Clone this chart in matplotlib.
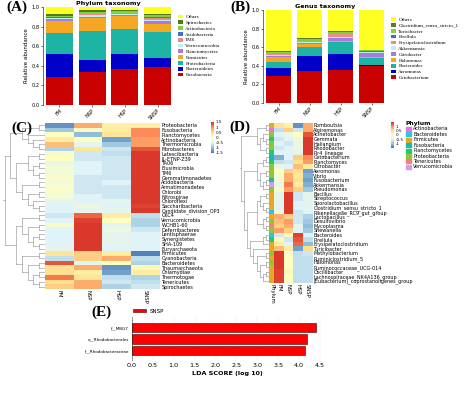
import numpy as np
import matplotlib.pyplot as plt
from matplotlib.colors import LinearSegmentedColormap, ListedColormap

W, H = 474, 399
fig = plt.figure(figsize=(W / 100, H / 100), dpi=100)


def box(l, t, r, b):
    return [l / W, 1 - b / H, (r - l) / W, (b - t) / H]


groups = ['FM', 'NSP', 'HSP', 'SNSP']

# ---- (A) phylum, bottom to top
phylum_names = ['Fusobacteria', 'Bacteroidetes', 'Proteobacteria', 'Firmicutes',
                'Planctomycetes', 'Verrucomicrobia', 'TM6', 'Acidobacteria',
                'Actinobacteria', 'Spirochaetes', 'Others']
phylum_colors = ['#C80000', '#0000C8', '#1EB4A5', '#F5A623', '#A77BDB', '#BFEFF2',
                 '#E88C8C', '#3D6FD1', '#80D040', '#4E7A1E', '#FFFF22']
phy_fm = [0.288, 0.237, 0.214, 0.119, 0.015, 0.010, 0.005, 0.008, 0.012, 0.024, 0.068]
phy_nsp = [0.339, 0.125, 0.289, 0.135, 0.012, 0.020, 0.004, 0.006, 0.015, 0.021, 0.034]
phy_hsp = [0.363, 0.162, 0.255, 0.125, 0.012, 0.015, 0.004, 0.006, 0.018, 0.010, 0.030]
phy_snsp = [0.383, 0.098, 0.265, 0.084, 0.025, 0.015, 0.015, 0.015, 0.015, 0.015, 0.070]

# ---- (B) genus, bottom to top
genus_names = ['Cetobacterium', 'Aeromonas', 'Bacteroides', 'Halomonas', 'Citrobacter',
               'Akkermansia', 'Erysipelatoclostridium', 'Pirellula', 'Turicibacter',
               'Clostridium_sensu_stricto_1', 'Others']
genus_colors = ['#C80000', '#0000C8', '#1EB4A5', '#F5A623', '#A77BDB', '#BFEFF2',
                '#E88C8C', '#3D6FD1', '#80D040', '#5E7A22', '#FFFF22']
gen_fm = [0.293, 0.082, 0.071, 0.047, 0.010, 0.010, 0.010, 0.005, 0.020, 0.006, 0.446]
gen_nsp = [0.339, 0.168, 0.100, 0.025, 0.015, 0.006, 0.010, 0.005, 0.018, 0.014, 0.300]
gen_hsp = [0.357, 0.168, 0.135, 0.008, 0.035, 0.010, 0.035, 0.004, 0.010, 0.010, 0.228]
gen_snsp = [0.393, 0.017, 0.075, 0.005, 0.045, 0.010, 0.005, 0.005, 0.012, 0.003, 0.430]

# ---- (C) phylum heatmap (row z-scores)
rows_c = ['Proteobacteria', 'Fusobacteria', 'Planctomycetes', 'Actinobacteria',
          'Thermomicrobia', 'Fibrobacteres', 'Latescibacteria', 'JL-ETNP-Z39', 'TA06',
          'Elusimicrobia', 'TM6', 'Gemmatimonadetes', 'Acidobacteria', 'Armatimonadetes',
          'Chlorobi', 'Nitrospirae', 'Chloroflexi', 'Saccharibacteria',
          'Candidate_division_OP3', 'CKC4', 'Verrucomicrobia', 'WCHB1-60',
          'Deferribacteres', 'Lentisphaerae', 'Synergistetes', 'SHA-109', 'Euryarchaeota',
          'Firmicutes', 'Cyanobacteria', 'Bacteroidetes', 'Thaumarchaeota', 'Chlamydiae',
          'Thermotogae', 'Tenericutes', 'Spirochaetes']
c_fm = [-1.3, -0.9, 0.0, 0.3, 0.7, -0.8, -0.1, 0.0, -0.3, -0.2, -0.2, -0.1, -0.2, -0.1,
        -0.1, -0.2, -0.4, -0.5, -0.5, -0.6, -0.5, -0.1, -0.5, -0.5, -0.5, -0.5, -0.4,
        0.4, -0.7, 1.3, 0.5, 0.5, 1.1, 0.5, 0.6]
c_nsp = [0.8, -0.1, -1.0, 0.0, -0.4, 0.4, -0.6, -0.6, -0.5, -0.5, -0.5, -0.6, -0.6, -0.6,
         -0.6, -0.5, -0.5, -0.3, -0.4, 1.2, 1.4, 1.45, 1.45, 1.45, 1.45, 1.45, 1.45,
         0.6, 0.6, -0.4, 0.8, 0.3, 0.4, 0.8, 0.8]
c_hsp = [0.25, 0.3, 0.4, -1.2, -0.9, -0.6, -0.7, -0.6, -0.6, -0.6, -0.6, -0.6, -0.5, -0.6,
         -0.6, -0.6, -0.4, -0.5, -0.4, 0.3, 0.0, -0.4, -0.3, -0.4, -0.4, -0.4, -0.5,
         0.3, 0.8, 0.0, -1.3, -1.2, -0.7, -0.6, -0.8]
c_snsp = [0.25, 1.0, 1.0, 0.9, 0.9, 1.3, 1.45, 1.45, 1.45, 1.45, 1.45, 1.45, 1.45, 1.45,
          1.45, 1.45, 1.45, 1.4, 1.45, -0.7, -0.8, -0.8, -0.6, -0.5, -0.5, -0.5, -0.5,
          -1.4, -0.7, -0.8, 0.1, 0.3, -0.8, -0.7, -0.6]
tree_c = ((((0, 1), (2, (3, (4, 5)))),
           (((6, 7), ((8, 9), (10, 11))), ((12, 13), ((14, 15), (16, (17, 18)))))),
          (((19, 20), ((21, 22), ((23, 24), (25, 26)))),
           ((27, 28), ((29, 30), ((31, 32), (33, 34))))))

# ---- (D) genus heatmap
rows_d = ['Romboutsia', 'Algiremonas', 'Acinetobacter', 'Gemmata', 'Haliangium',
          'Rhodobacter', 'Pir4_lineage', 'Cetobacterium', 'Planctomyces', 'Citrobacter',
          'Aeromonas', 'Vibrio', 'Fusobacterium', 'Akkermansia', 'Pseudomonas', 'Bacillus',
          'Streptococcus', 'Sporolactobacillus', 'Clostridium_sensu_stricto_1',
          'Rikenellaceae_RC9_gut_group', 'Lactobacillus', 'Desulfovibrio', 'Mycoplasma',
          'Shewanella', 'Bacteroides', 'Pirellula', 'Erysipelatoclostridium', 'Turicibacter',
          'Methylobacterium', 'Ruminiclostridium_5', 'Halomonas', 'Ruminococcaceae_UCG-014',
          'Oscillibacter', 'Lachnospiraceae_NK4A136_group',
          '[Eubacterium]_coprostanoligenes_group']
d_phylum = [2, 0, 5, 4, 5, 5, 4, 3, 4, 5, 5, 5, 3, 7, 5, 2, 2, 2, 2, 1, 2, 5, 6, 5, 1, 4,
            2, 2, 5, 2, 5, 2, 2, 2, 2]
d_fm = [0.4, -0.7, -0.5, -0.6, -0.5, -0.6, -0.5, -1.1, -0.7, -0.3, 0.0, -0.2, -0.1, -0.3,
        -0.1, -0.4, -0.4, -0.4, -0.5, -0.3, 0.8, 0.7, 0.6, 0.9, -0.6, 0.1, 0.3, 0.7,
        1.45, 1.45, 1.45, 1.45, 1.4, 1.4, 1.4]
d_nsp = [0.2, 0.6, -0.3, -0.5, -0.6, -0.5, -0.5, -0.5, -0.6, -0.5, 0.6, 0.8, 0.8, 1.1,
         0.9, 1.45, 1.45, 1.45, 1.45, 1.45, 0.6, 0.9, 0.8, 0.6, 0.1, -0.6, -0.5, 0.3,
         -0.1, 0.0, 0.0, 0.0, 0.1, 0.0, 0.0]
d_hsp = [-1.3, -0.6, 0.0, -0.3, -0.3, -0.3, -0.4, 0.6, 0.5, 0.7, 0.5, 0.4, 0.5, 0.3,
         0.6, -0.6, -0.6, -0.5, -0.5, -0.6, -0.6, -0.6, -0.4, -0.5, 1.4, 1.3, 1.2, -1.2,
         -0.7, -0.7, -0.7, -0.7, -0.7, -0.7, -0.7]
d_snsp = [0.8, 0.8, 1.3, 1.45, 1.45, 1.45, 1.45, 1.0, 0.9, 0.3, -1.2, -1.1, -1.2, -1.1,
          -0.9, -0.4, -0.4, -0.5, -0.4, -0.5, -0.8, -0.9, -1.0, -0.9, -0.5, -0.7, -1.0,
          0.5, -0.6, -0.7, -0.7, -0.7, -0.7, -0.7, -0.7]
phylum_d = ['Actinobacteria', 'Bacteroidetes', 'Firmicutes', 'Fusobacteria',
            'Planctomycetes', 'Proteobacteria', 'Tenericutes', 'Verrucomicrobia']
phylum_d_colors = ['#F070E0', '#22C8E8', '#E8A820', '#1CB8B0', '#22C878', '#8CC832',
                   '#F08078', '#D49CF0']
tree_d = (((0, 1), ((2, (3, 4)), (5, 6))),
          ((((7, 8), 9), ((10, 11), ((12, 13), 14))),
           ((((15, 16), (17, (18, 19))), ((20, 21), (22, 23))),
            (((24, 25), 26), (27, ((28, 29), ((30, 31), ((32, 33), 34))))))))

# ---- (E) LEfSe
lda_taxa = ['f__Rhodobacteraceae', 'o__Rhodobacterales', 'f__MBG7']
lda_score = [4.15, 4.20, 4.40]

heat = LinearSegmentedColormap.from_list(
    'ph', ['#4575B4', '#91BFDB', '#E0F3F8', '#FFFFBF', '#FEE090', '#FC8D59', '#D73027'])
serif = 'Liberation Serif'


def stacked(ax, cols, names, colors, title):
    bottom = np.zeros(len(groups))
    data = np.array(cols)
    for i, name in enumerate(names):
        ax.bar(range(len(groups)), data[:, i], 0.82, bottom=bottom, color=colors[i],
               label=name, linewidth=0)
        bottom += data[:, i]
    ax.set_xlim(-0.5, len(groups) - 0.5)
    ax.set_ylim(0, 1)
    ax.set_yticks(np.arange(0, 1.01, 0.2))
    ax.set_yticklabels(['%.1f' % v for v in np.arange(0, 1.01, 0.2)])
    ax.set_xticks(range(len(groups)))
    ax.set_xticklabels(groups, rotation=45, ha='right', rotation_mode='anchor')
    ax.tick_params(labelsize=3.6, length=1.2, width=0.4, pad=1)
    for s in ['top', 'right', 'bottom']:
        ax.spines[s].set_visible(False)
    ax.spines['left'].set_linewidth(0.4)
    ax.set_ylabel('Relative abundance', fontsize=4, labelpad=2)
    ax.set_title(title, fontsize=4.6, fontweight='bold', pad=1.5)
    h, l = ax.get_legend_handles_labels()
    ax.legend(h[::-1], l[::-1], loc='upper left', bbox_to_anchor=(1.0, 0.96),
              frameon=False, prop={'family': serif, 'size': 3.7}, handlelength=1.1,
              handleheight=0.75, labelspacing=0.22, handletextpad=0.4, borderpad=0.2)


axA = fig.add_axes(box(43, 7, 174, 105))
stacked(axA, [phy_fm, phy_nsp, phy_hsp, phy_snsp], phylum_names, phylum_colors,
        'Phylum taxonomy')
axB = fig.add_axes(box(263, 10, 387, 103))
stacked(axB, [gen_fm, gen_nsp, gen_hsp, gen_snsp], genus_names, genus_colors,
        'Genus taxonomy')


def draw_tree(ax, node):
    if isinstance(node, int):
        return node, 0
    pos = [draw_tree(ax, c) for c in node]
    h = max(p[1] for p in pos) + 1
    ys = [p[0] for p in pos]
    for y, hc in pos:
        ax.plot([hc, h], [y, y], color='0.55', lw=0.4)
    ax.plot([h, h], [min(ys), max(ys)], color='0.55', lw=0.4)
    return (min(ys) + max(ys)) / 2, h


def tree_axes(rect, tree, n):
    ax = fig.add_axes(rect)
    y, h = draw_tree(ax, tree)
    ax.plot([h, h + 0.3], [y, y], color='0.55', lw=0.4)
    ax.set_xlim(h + 0.3, 0)
    ax.set_ylim(n - 0.5, -0.5)
    ax.axis('off')


def heatmap(rect, cols, rows, labels):
    ax = fig.add_axes(rect)
    im = ax.imshow(np.array(cols).T, cmap=heat, vmin=-1.5, vmax=1.5, aspect='auto',
                   interpolation='nearest')
    ax.yaxis.tick_right()
    ax.set_yticks(range(len(rows)))
    ax.set_yticklabels(rows, fontsize=3.5)
    ax.set_xticks(range(len(labels)))
    ax.set_xticklabels(labels, rotation=270, fontsize=3.8, va='top')
    ax.tick_params(length=0, pad=1)
    for s in ax.spines.values():
        s.set_visible(False)
    return im


# ---- (C)
tree_axes(box(3, 123, 45, 289), tree_c, len(rows_c))
imC = heatmap(box(45, 123, 160, 289), [c_fm, c_nsp, c_hsp, c_snsp], rows_c, groups)
caxC = fig.add_axes(box(211, 122, 214, 153))
cb = fig.colorbar(imC, cax=caxC, ticks=[1.5, 1, 0.5, 0, -0.5, -1, -1.5])
cb.ax.set_yticklabels(['1.5', '1', '0.5', '0', '-0.5', '-1', '-1.5'])
cb.ax.tick_params(labelsize=3, length=0, pad=1)
cb.outline.set_visible(False)

# ---- (D)
tree_axes(box(240, 123, 269, 283), tree_d, len(rows_d))
axAn = fig.add_axes(box(269, 123, 274, 283))
axAn.imshow(np.array(d_phylum)[:, None], cmap=ListedColormap(phylum_d_colors),
            vmin=-0.5, vmax=len(phylum_d) - 0.5, aspect='auto', interpolation='nearest')
axAn.set_yticks([])
axAn.set_xticks([0])
axAn.set_xticklabels(['Phylum'], rotation=270, fontsize=3.8, va='top')
axAn.tick_params(length=0, pad=1)
for s in axAn.spines.values():
    s.set_visible(False)
imD = heatmap(box(274, 123, 312, 283), [d_fm, d_nsp, d_hsp, d_snsp], rows_d, groups)
caxD = fig.add_axes(box(391, 122, 394, 148))
cb = fig.colorbar(imD, cax=caxD, ticks=[1, 0.5, 0, -0.5, -1])
cb.ax.set_yticklabels(['1', '0.5', '0', '-0.5', '-1'])
cb.ax.tick_params(labelsize=3, length=0, pad=1)
cb.outline.set_visible(False)
fig.text(406 / W, 1 - 123 / H, 'Phylum', fontsize=4.3, fontweight='bold', va='center')
for i, name in enumerate(phylum_d):
    y = 1 - (129 + i * 5.4) / H
    fig.patches.append(plt.Rectangle((406 / W, y - 2 / H), 5 / W, 4 / H,
                                     transform=fig.transFigure, color=phylum_d_colors[i]))
    fig.text(413 / W, y, name, fontsize=3.5, va='center')

# ---- (E)
axE = fig.add_axes(box(132, 317, 322, 360))
yy = np.arange(len(lda_taxa))
axE.barh(yy, lda_score, 0.8, color='#FF0000', edgecolor='#400000', linewidth=0.4,
         label='SNSP')
axE.set_xlim(0, 4.55)
axE.set_ylim(-0.83, 2.91)
axE.set_yticks(yy)
axE.set_yticklabels(lda_taxa, fontsize=3)
axE.set_xticks(np.arange(0, 4.51, 0.5))
axE.set_xticklabels(['%.1f' % v for v in np.arange(0, 4.51, 0.5)], fontsize=4.6)
axE.tick_params(axis='y', length=0, pad=2)
axE.tick_params(axis='x', length=0, pad=2, top=False)
axE.grid(axis='x', color='0.75', lw=0.3, ls=':')
axE.set_axisbelow(True)
for s in ['top', 'right', 'bottom']:
    axE.spines[s].set_visible(False)
axE.spines['left'].set_linestyle(':')
axE.spines['left'].set_linewidth(0.4)
axE.set_xlabel('LDA SCORE (log 10)', fontsize=4.6, fontweight='bold', labelpad=2)
axE.legend(loc='lower left', bbox_to_anchor=(-0.01, 1.0), frameon=False, fontsize=4,
           handlelength=2.2, handleheight=0.6, borderpad=0.1)

# panel letters
for lab, x, y in [('(A)', 17, 7), ('(B)', 240, 7), ('(C)', 22, 128), ('(D)', 240, 127),
                  ('(E)', 101, 312)]:
    fig.text(x / W, 1 - y / H, lab, family=serif, fontweight='bold', fontsize=11,
             ha='center', va='center')

fig.savefig('out.png', dpi=100)
